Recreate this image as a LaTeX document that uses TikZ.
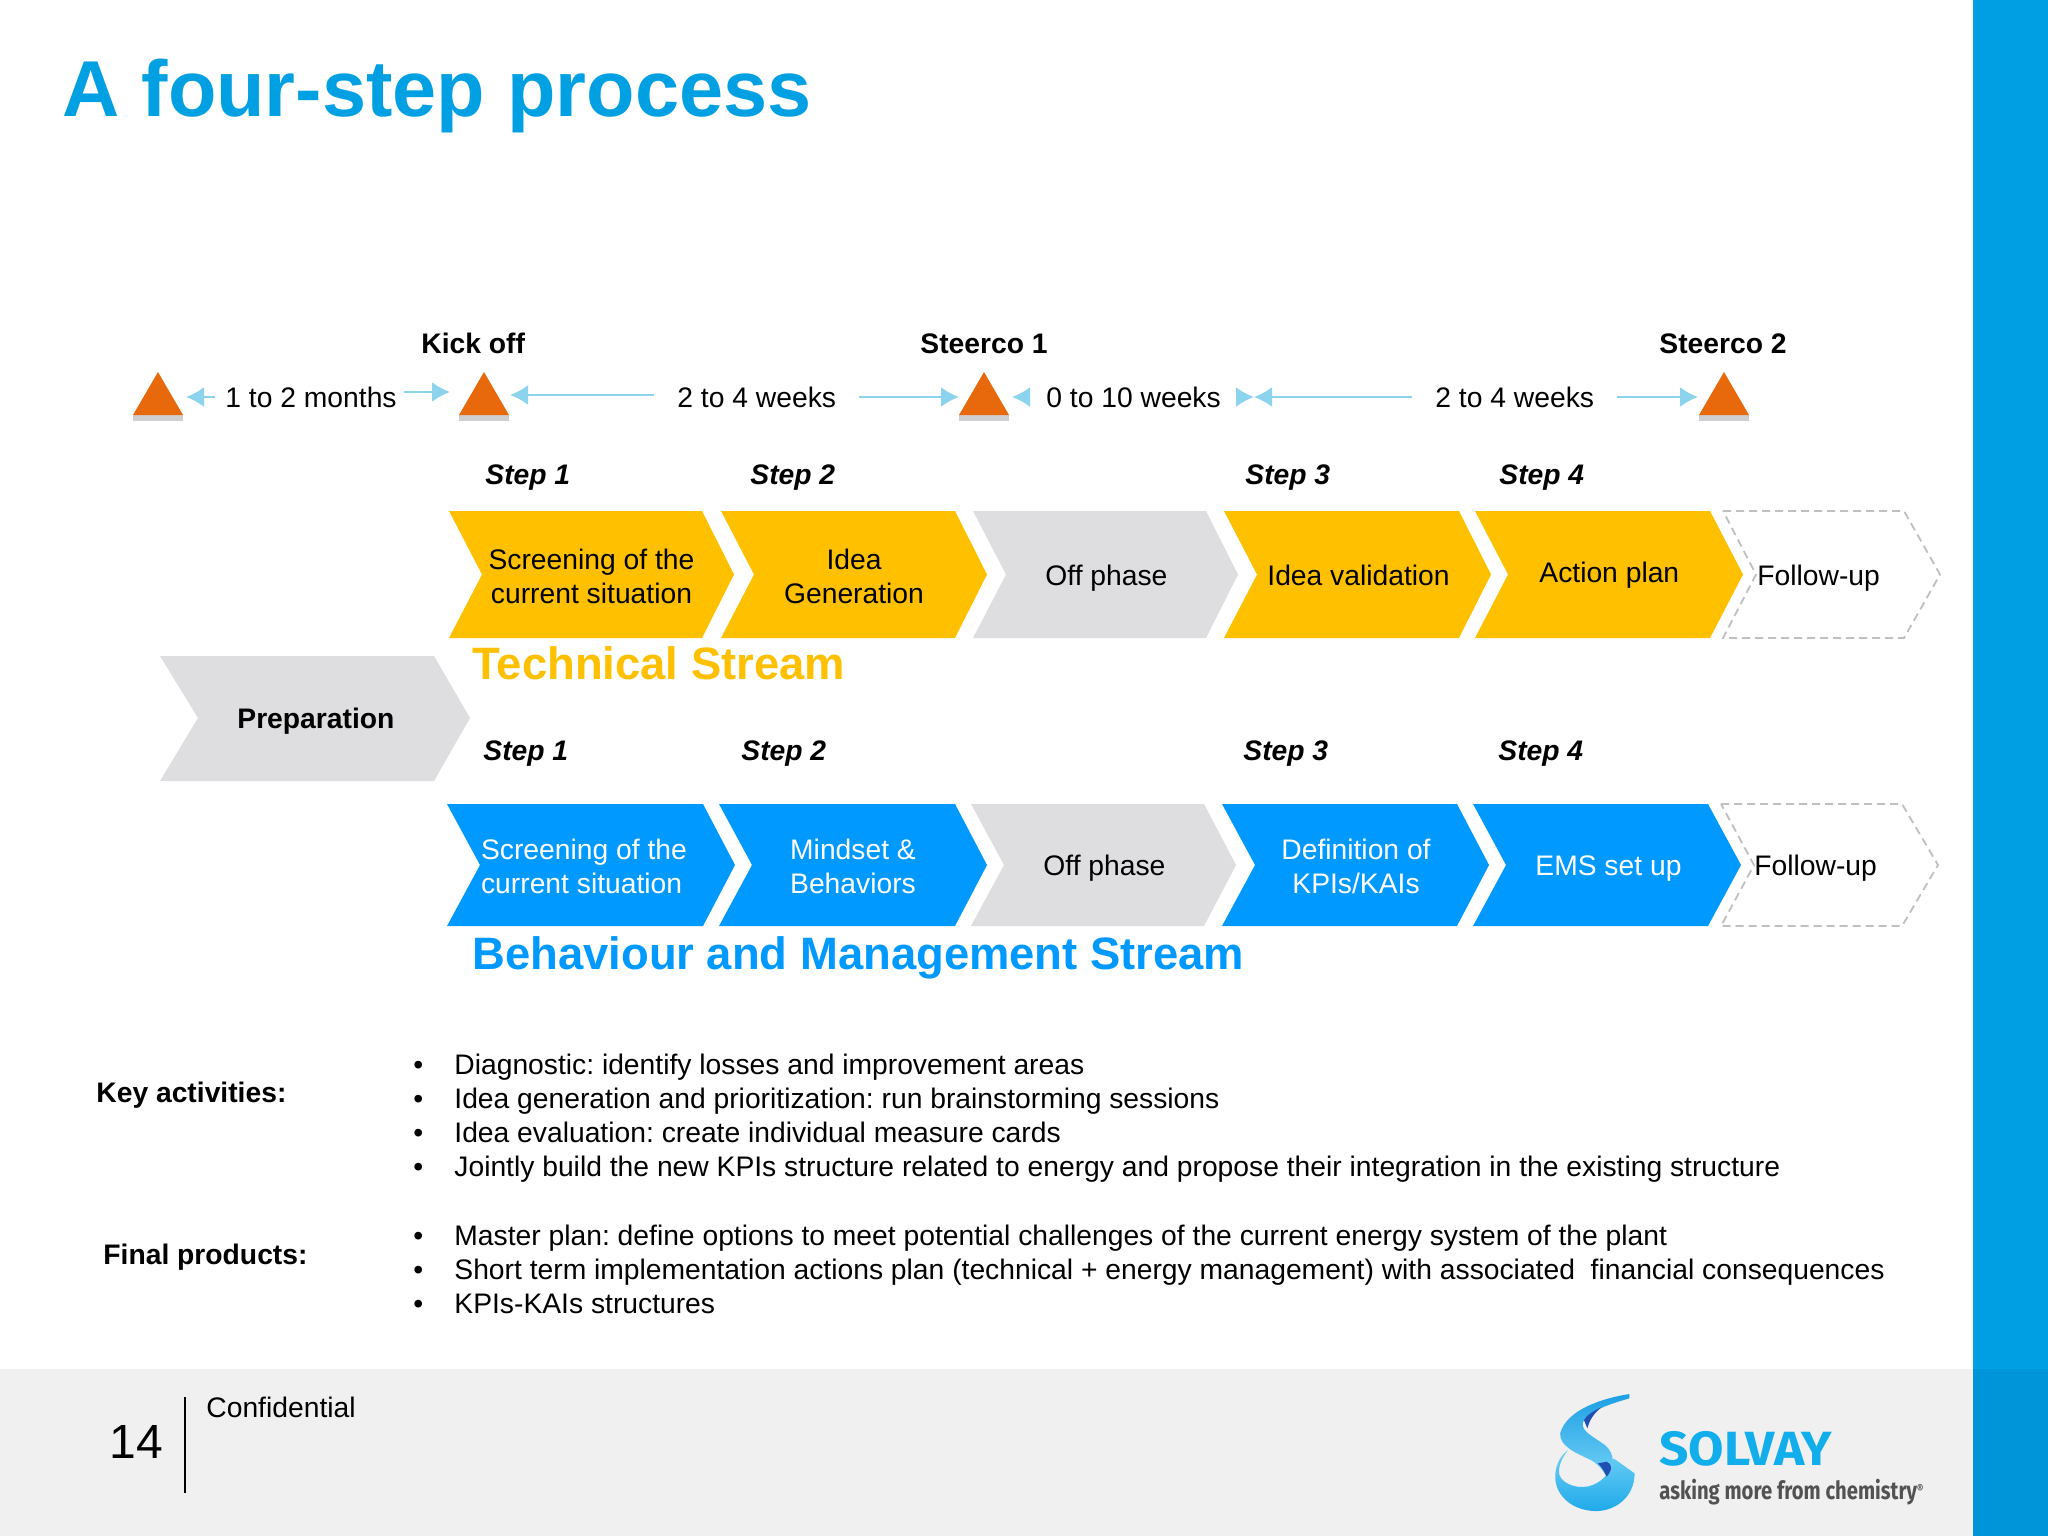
\documentclass[tikz,border=0pt]{standalone}
\usepackage{fontspec}
\usepackage{graphicx}
\setmainfont{Liberation Sans}
\newfontfamily\firafont{Fira Sans}
\frenchspacing
\usetikzlibrary{arrows.meta}
\definecolor{cband}{HTML}{009FE3}
\definecolor{cband2}{HTML}{0095D8}
\definecolor{cfoot}{HTML}{F0F0F0}
\definecolor{ctitle}{HTML}{00A0E3}
\definecolor{cyel}{HTML}{FFC000}
\definecolor{cblue}{HTML}{0099FF}
\definecolor{cgrey}{HTML}{DEDDE0}
\definecolor{cshad}{HTML}{CFCFD2}
\definecolor{ctri}{HTML}{E8690B}
\definecolor{carrow}{HTML}{8CD3EE}
\definecolor{cdash}{HTML}{BFBFC4}
\definecolor{logoa}{HTML}{1FA9EA}
\definecolor{logob}{HTML}{1E9FE4}
\definecolor{logoc}{HTML}{6FD0F5}
\definecolor{logod}{HTML}{1F4FB0}
\definecolor{logot}{HTML}{12AEEB}
\newcommand{\bodyf}{\fontsize{14.13}{17}\selectfont}
\newcommand{\headf}{\fontsize{22.7}{26}\selectfont\bfseries}
% \chevshape{style}{top}{bottom}{left}{tip offset}{topright}
\newcommand{\chevshape}[6]{%
  \path[#1] (#4,#2) -- (#6,#2) -- ++(#5,{(#3-#2)/2}) -- (#6,#3) -- (#4,#3) -- ++(33,{-(#3-#2)/2}) -- cycle;}
\newcommand{\tri}[2]{%
  \fill[cshad] (#1-25,415) -- (#1+25,415) -- (#1+25,421) -- (#1-25,421) -- cycle;
  \fill[ctri] (#1,#2) -- (#1+25,415) -- (#1-25,415) -- cycle;}
\tikzset{
  lab/.style={anchor=base west,inner sep=0pt,font=\bodyf,text=black},
  ctr/.style={anchor=center,inner sep=0pt,font=\bodyf,align=center},
  bold/.style={lab,font=\bodyf\bfseries},
  stepl/.style={lab,font=\bodyf\bfseries\itshape},
  head/.style={lab,font=\headf},
  tl/.style={draw=carrow,line width=1.2pt,-{Latex[length=9pt,width=10pt]}},
  cy/.style={fill=cyel},
  cb/.style={fill=cblue},
  cg/.style={fill=cgrey},
  cd/.style={draw=cdash,line width=0.9pt,dash pattern=on 4pt off 2.5pt},
}
\begin{document}
\begin{tikzpicture}[x=0.5pt,y=-0.5pt]
\useasboundingbox (0,0) rectangle (2048,1536);
\fill[white] (0,0) rectangle (2048,1536);
\fill[cfoot] (0,1369) rectangle (1973,1536);
\fill[cband] (1973,0) rectangle (2048,1369);
\fill[cband2] (1973,1369) rectangle (2048,1536);
\node[head,font=\fontsize{39.65}{46}\selectfont\bfseries,text=ctitle] (title) at (62,117) {A four-step process};

% milestones
\tri{158}{372}\tri{484}{372}\tri{984}{372}\tri{1724}{372}
\node[bold] (kick) at (421,353) {Kick off};
\node[bold] (st1) at (920,353) {Steerco 1};
\node[bold] (st2) at (1659,353) {Steerco 2};
\node[lab] (d1) at (225,407) {1 to 2 months};
\node[lab] (d2) at (677,407) {2 to 4 weeks};
\node[lab] (d3) at (1046,407) {0 to 10 weeks};
\node[lab] (d4) at (1435,407) {2 to 4 weeks};
\coordinate (a1s) at (215,397); \coordinate (a1e) at (186,397);
\coordinate (a2s) at (404,392); \coordinate (a2e) at (450,392);
\coordinate (a3s) at (654,395); \coordinate (a3e) at (510,395);
\coordinate (a4s) at (859,397); \coordinate (a4e) at (959,397);
\coordinate (a5s) at (1030,397); \coordinate (a5e) at (1012,397);
\coordinate (a6s) at (1236,397); \coordinate (a6e) at (1254,397);
\coordinate (a7s) at (1412,397); \coordinate (a7e) at (1254,397);
\coordinate (a8s) at (1617,397); \coordinate (a8e) at (1698,397);
\draw[tl] (a1s) -- (a1e);
\draw[tl] (a2s) -- (a2e);
\draw[tl] (a3s) -- (a3e);
\draw[tl] (a4s) -- (a4e);
\draw[tl] (a5s) -- (a5e);
\draw[tl] (a6s) -- (a6e);
\draw[tl] (a7s) -- (a7e);
\draw[tl] (a8s) -- (a8e);

% technical stream
\node[stepl] (s11) at (485,484) {Step 1};
\node[stepl] (s12) at (750,484) {Step 2};
\node[stepl] (s13) at (1245,484) {Step 3};
\node[stepl] (s14) at (1499,484) {Step 4};
\chevshape{cy}{511}{638}{449}{32}{702}
\chevshape{cy}{511}{638}{721}{32}{955}
\chevshape{cg}{511}{638}{973}{32}{1206}
\chevshape{cy}{511}{638}{1224}{32}{1459}
\chevshape{cy}{511}{638}{1475}{33}{1710}
\chevshape{cd}{511}{638}{1723}{36}{1904}
\node[ctr] (t1) at (591.5,576) {Screening of the\\current situation};
\node[ctr] (t2) at (854,576) {Idea\\Generation};
\node[lab] (t3) at (1045,585) {Off phase};
\node[lab] (t4) at (1267,585) {Idea validation};
\node[lab] (t5) at (1539,582) {Action plan};
\node[lab] (t6) at (1757,585) {Follow-up};
\node[head,text=cyel] (htech) at (472,679) {Technical Stream};

% preparation
\path[cg] (160,656) -- (434,656) -- (470,718) -- (434,781) -- (160,781) -- (198,718) -- cycle;
\node[bold] (prep) at (237,728) {Preparation};

% behaviour stream
\node[stepl] (s21) at (483,760) {Step 1};
\node[stepl] (s22) at (741,760) {Step 2};
\node[stepl] (s23) at (1243,760) {Step 3};
\node[stepl] (s24) at (1498,760) {Step 4};
\chevshape{cb}{804}{926}{447}{32}{703}
\chevshape{cb}{804}{926}{719}{32}{955}
\chevshape{cg}{804}{926}{971}{32}{1204}
\chevshape{cb}{804}{926}{1222}{32}{1457}
\chevshape{cb}{804}{926}{1473}{33}{1708}
\chevshape{cd}{804}{926}{1721}{36}{1902}
\node[ctr,align=left,text=white] (b1) at (584,866) {Screening of the\\current situation};
\node[ctr,text=white] (b2) at (853,866) {Mindset \&\\Behaviors};
\node[lab] (b3) at (1043,875) {Off phase};
\node[ctr,text=white] (b4) at (1356,866) {Definition of\\KPIs/KAIs};
\node[lab,text=white] (b5) at (1535,875) {EMS set up};
\node[lab] (b6) at (1754,875) {Follow-up};
\node[head,text=cblue] (hbeh) at (472,969) {Behaviour and Management Stream};

% lists
\node[bold] (ka) at (96,1102) {Key activities:};
\node[bold] (fp) at (103,1264) {Final products:};
\node[lab] (k1b) at (413,1074) {•}; \node[lab] (k1) at (454,1074) {Diagnostic: identify losses and improvement areas};
\node[lab] (k2b) at (413,1108) {•}; \node[lab] (k2) at (454,1108) {Idea generation and prioritization: run brainstorming sessions};
\node[lab] (k3b) at (413,1142) {•}; \node[lab] (k3) at (454,1142) {Idea evaluation: create individual measure cards};
\node[lab] (k4b) at (413,1176) {•}; \node[lab] (k4) at (454,1176) {Jointly build the new KPIs structure related to energy and propose their integration in the existing structure};
\node[lab] (f1b) at (413,1245) {•}; \node[lab] (f1) at (454,1245) {Master plan: define options to meet potential challenges of the current energy system of the plant};
\node[lab] (f2b) at (413,1279) {•}; \node[lab] (f2) at (454,1279) {Short term implementation actions plan (technical + energy management) with associated\ \ financial consequences};
\node[lab] (f3b) at (413,1313) {•}; \node[lab] (f3) at (454,1313) {KPIs-KAIs structures};

% footer
\node[lab,font=\fontsize{24}{28}\selectfont] (pg) at (109,1458) {14};
\coordinate (ft) at (185,1397); \coordinate (fb) at (185,1493);
\draw[black,line width=0.7pt] (ft) -- (fb);
\node[lab] (conf) at (206,1417) {Confidential};

% logo
\begin{scope}[shift={(1500,1360)},x=0.1748pt,y=-0.1667pt]
  % lower bowl
  \path[top color=logoc,bottom color=logoa] (385,340) .. controls (385,410) and (330,455) .. (270,453)
     .. controls (200,450) and (155,400) .. (158,345) .. controls (160,310) and (175,285) .. (195,270)
     .. controls (175,295) and (165,325) .. (170,345) .. controls (180,375) and (230,390) .. (265,375)
     .. controls (300,360) and (320,330) .. (325,295) -- cycle;
  % upper ribbon
  \path[top color=logob,bottom color=logoc] (370,102) .. controls (290,115) and (190,150) .. (172,220)
     .. controls (170,260) and (220,280) .. (260,300) .. controls (285,315) and (300,340) .. (305,350)
     .. controls (330,330) and (330,280) .. (300,255) .. controls (260,225) and (225,210) .. (240,180)
     .. controls (260,150) and (320,130) .. (370,115) -- cycle;
  % shadows in the folds
  \fill[logod] (305,305) .. controls (322,312) and (322,330) .. (305,350) .. controls (298,335) and (292,322) .. (280,310) -- cycle;
  \fill[logod] (240,180) .. controls (250,162) and (272,150) .. (290,142) .. controls (268,160) and (255,182) .. (250,205) -- cycle;
\end{scope}
\node[lab,font=\firafont\fontsize{24}{28}\selectfont\bfseries,text=logot] (logo1) at (1659,1465) {\scalebox{1.07}[1]{SOLVAY}};
\node[lab,font=\firafont\fontsize{12.5}{16}\selectfont\bfseries,text=black!68] (logo2) at (1659,1499) {\scalebox{.81}[1]{asking more from chemistry\raisebox{3pt}{\fontsize{6}{7}\selectfont®}}};
\end{tikzpicture}
\end{document}
